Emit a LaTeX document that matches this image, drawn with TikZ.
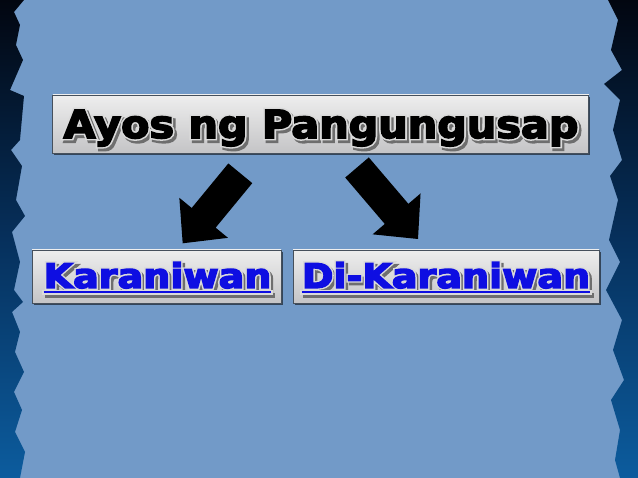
\documentclass[tikz,border=0pt]{standalone}
\usepackage{fontspec}
\usepackage{graphicx}
\usetikzlibrary{calc,shadows}
\newfontfamily\heavy{DejaVu Sans Bold}[FakeBold=4]
\newfontfamily\heavyrim{DejaVu Sans Bold}[FakeBold=12]
\definecolor{bg}{RGB}{114,154,200}
\definecolor{bandtop}{RGB}{2,6,16}
\definecolor{bandmid}{RGB}{6,48,92}
\definecolor{bandbot}{RGB}{12,92,158}
\definecolor{boxtop}{RGB}{238,238,238}
\definecolor{boxbot}{RGB}{196,196,198}
\definecolor{boxedge}{RGB}{70,80,92}
\definecolor{rim}{RGB}{218,218,218}
\definecolor{txshadow}{RGB}{110,110,110}
\definecolor{linkblue}{RGB}{14,14,226}
\newsavebox\ulsave
\newcommand\ultext[2]{% #1 pad, #2 text
 \sbox\ulsave{#2}\rlap{\kern-#1\rule[\dimexpr-5.5pt-#1\relax]{\dimexpr\wd\ulsave+#1*2\relax}{\dimexpr2.4pt+#1*2\relax}}\usebox\ulsave}
\newcommand\rimplain[2]{% #1 colour, #2 text
 \makebox[0pt][l]{\kern2.2pt\raisebox{-2.8pt}{\heavyrim\color{txshadow}#2}}%
 \makebox[0pt][l]{\heavyrim\color{rim}#2}%
 {\heavy\color{#1}#2}}
\newcommand\rimul[2]{% #1 colour, #2 text (underlined)
 \makebox[0pt][l]{\kern2.2pt\raisebox{-2.8pt}{\heavyrim\color{txshadow}\ultext{1.3pt}{#2}}}%
 \makebox[0pt][l]{\heavyrim\color{rim}\ultext{1.3pt}{#2}}%
 {\heavy\color{#1}\ultext{0pt}{#2}}}
\newcommand\blockarrow[2]{%
 \coordinate (#1base) at ($(#2)!33pt!(#1)$);
 \fill[arrowfill] ($(#1)!15.5pt!90:(#2)$) -- ($(#1base)!15.5pt!90:(#2)$)
   -- ($(#1base)!31.5pt!90:(#2)$) -- (#2)
   -- ($(#1base)!31.5pt!-90:(#2)$) -- ($(#1base)!15.5pt!-90:(#2)$)
   -- ($(#1)!15.5pt!-90:(#2)$) -- cycle;}
\tikzset{
 panel/.style={draw=boxedge, line width=0.9pt, top color=boxtop, bottom color=boxbot,
   inner sep=0pt, drop shadow={shadow xshift=1.5pt, shadow yshift=-2pt, opacity=0.55, fill=black}},
 label/.style={anchor=base, inner sep=0pt},
 band/.style={top color=bandtop, bottom color=bandbot, middle color=bandmid},
 arrowfill/.style={fill=black}
}
\begin{document}
\begin{tikzpicture}[x=1pt,y=-1pt]
\useasboundingbox (0,0) rectangle (638,478);
\fill[bg] (0,0) rectangle (638,478);
% jagged side bands
\shade[band] (0,0) -- (24,0) -- (14,12) -- (20,25) -- (16,45) -- (23,60) -- (10,90) -- (24,96)
 -- (20,140) -- (11,150) -- (22,166) -- (16,200) -- (25,216) -- (12,232) -- (20,262)
 -- (14,290) -- (23,302) -- (12,312) -- (20,332) -- (15,352) -- (24,372) -- (14,392)
 -- (22,410) -- (15,432) -- (25,452) -- (20,478) -- (0,478) -- cycle;
\shade[band] (638,0) -- (608,0) -- (618,20) -- (611,50) -- (622,70) -- (604,84) -- (620,100)
 -- (613,130) -- (622,160) -- (610,176) -- (618,200) -- (609,240) -- (620,262) -- (606,290)
 -- (622,320) -- (613,350) -- (624,380) -- (611,400) -- (620,430) -- (615,460) -- (620,478)
 -- (638,478) -- cycle;
% boxes
\node[panel, minimum width=536pt, minimum height=58pt] (title) at (320.8,124) {};
\node[panel, minimum width=249pt, minimum height=53pt] (kar) at (156.5,276.5) {};
\node[panel, minimum width=306pt, minimum height=53pt] (dikar) at (446,276.5) {};
% texts
\node[label] (titletext) at (321,138)
 {\fontsize{38.5}{40}\selectfont\scalebox{1.075}[1]{\rimplain{black}{Ayos ng Pangungusap}}};
\node[label] (kartext) at (157.5,288)
 {\fontsize{34}{36}\selectfont\scalebox{1.12}[1]{\rimul{linkblue}{Karaniwan}}};
\node[label] (dikartext) at (446,288)
 {\fontsize{34}{36}\selectfont\scalebox{1.12}[1]{\rimul{linkblue}{Di-Karaniwan}}};
% arrows
\coordinate (ltail) at (240.3,173.3);
\coordinate (ltip) at (182.7,243.3);
\coordinate (rtail) at (357,167.5);
\coordinate (rtip) at (418,239);
\blockarrow{ltail}{ltip}
\blockarrow{rtail}{rtip}
\end{tikzpicture}
\end{document}
